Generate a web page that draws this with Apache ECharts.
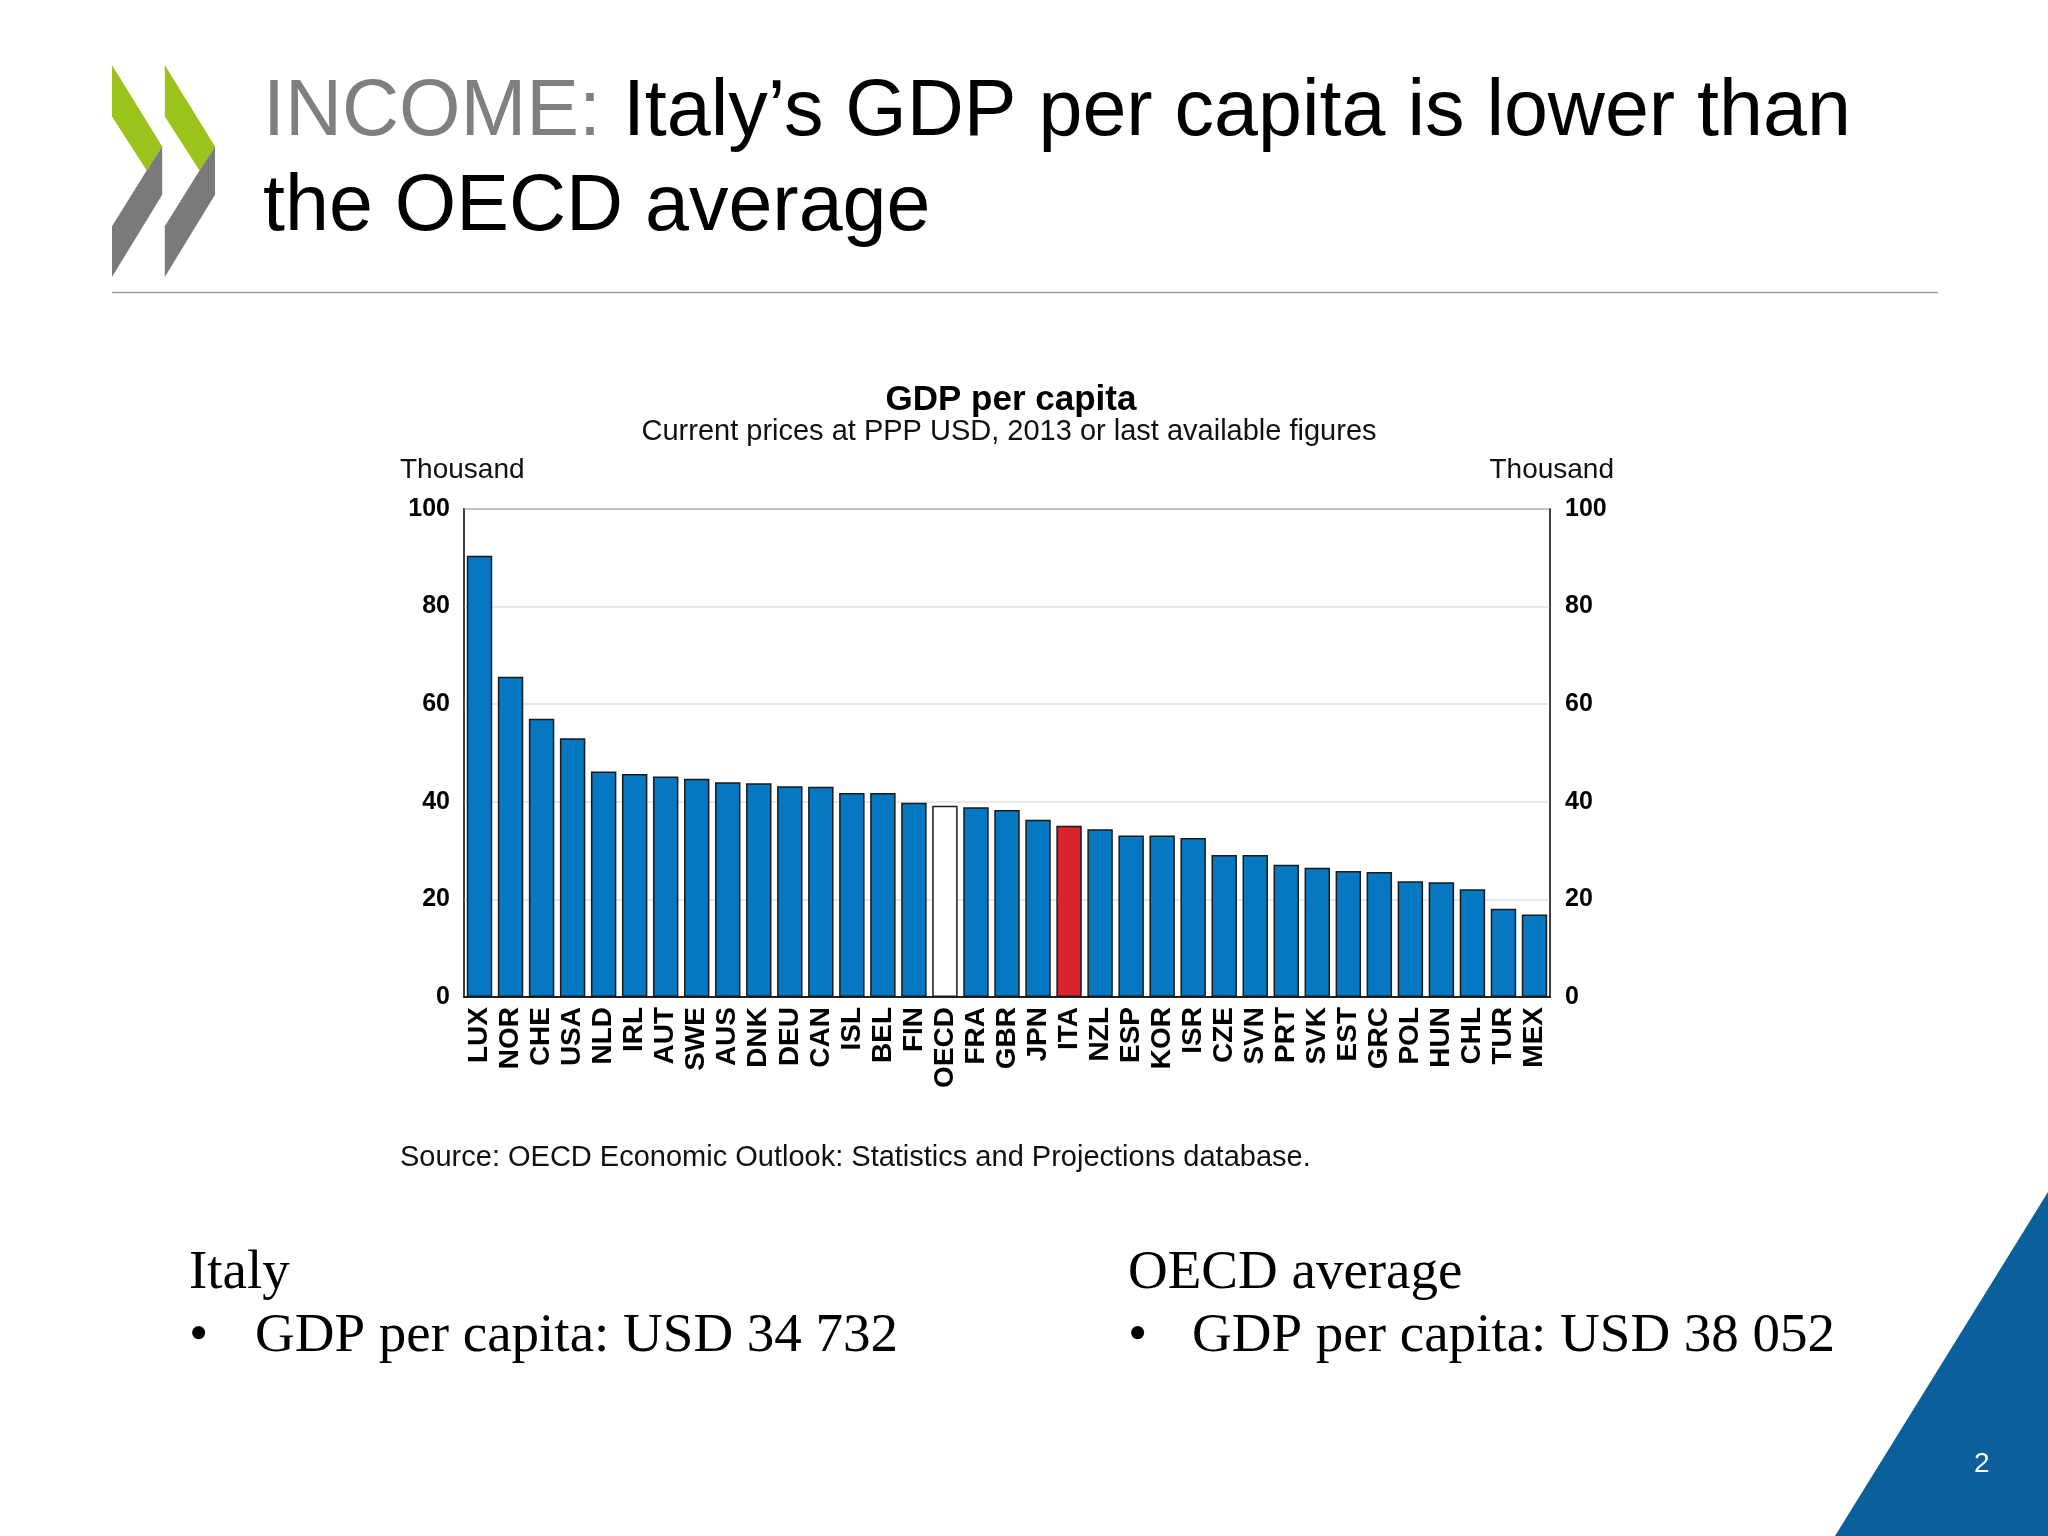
<!DOCTYPE html>
<html>
<head>
<meta charset="utf-8">
<style>
  html, body { margin: 0; padding: 0; background: #fff; }
  #chart { width: 2048px; height: 1536px; }
</style>
<script src="https://cdn.jsdelivr.net/npm/echarts@6/dist/echarts.min.js"></script>
</head>
<body>
<div id="chart"></div>
<script>
  // countries, ordered as in the chart
  const countries = ['LUX', 'NOR', 'CHE', 'USA', 'NLD', 'IRL', 'AUT', 'SWE', 'AUS', 'DNK',
    'DEU', 'CAN', 'ISL', 'BEL', 'FIN', 'OECD', 'FRA', 'GBR', 'JPN', 'ITA',
    'NZL', 'ESP', 'KOR', 'ISR', 'CZE', 'SVN', 'PRT', 'SVK', 'EST', 'GRC',
    'POL', 'HUN', 'CHL', 'TUR', 'MEX'];
  // GDP per capita, thousand USD (PPP)
  const gdpValues = [90.4, 65.6, 57.0, 53.0, 46.2, 45.7, 45.2, 44.7, 44.0, 43.8,
    43.2, 43.1, 41.8, 41.8, 39.8, 39.2, 38.9, 38.3, 36.3, 35.1,
    34.4, 33.1, 33.1, 32.6, 29.1, 29.1, 27.1, 26.5, 25.8, 25.6,
    23.7, 23.5, 22.1, 18.1, 16.9];
  const yTicks = [0, 20, 40, 60, 80, 100];

  const blue = '#0677c1';
  const sans = '"Liberation Sans", Arial, sans-serif';
  const serif = '"Liberation Serif", "Times New Roman", serif';

  let myChart = echarts.init(document.getElementById('chart'));

  let barData = gdpValues.map(function (v, i) {
    let c = countries[i];
    let color = blue;
    if (c === 'OECD') color = '#ffffff';
    if (c === 'ITA') color = '#d8232c';
    return { value: v, itemStyle: { color: color } };
  });

  // OECD logo chevrons
  function chevron(x0) {
    let xi = x0 + 34.7, xr = x0 + 50.2;
    return [
      { type: 'polygon', shape: { points: [[x0, 65], [xr, 146.6], [xi, 170.6], [x0, 116.5]] }, style: { fill: '#9bc31c' } },
      { type: 'polygon', shape: { points: [[xr, 146.6], [xr, 194.7], [x0, 277], [x0, 226.3], [xi, 170.6]] }, style: { fill: '#7a7a7a' } }
    ];
  }

  myChart.setOption({
    backgroundColor: '#ffffff',
    animation: false,
    title: [{
      text: '{g|INCOME:} Italy’s GDP per capita is lower than',
      left: 258, top: 68,
      textStyle: {
        fontFamily: sans, fontSize: 79, fontWeight: 'normal', color: '#000', lineHeight: 80,
        rich: { g: { fontFamily: sans, fontSize: 79, color: '#7f7f7f', lineHeight: 80 } }
      }
    }, {
      text: 'the OECD average',
      left: 258, top: 163,
      textStyle: { fontFamily: sans, fontSize: 79, fontWeight: 'normal', color: '#000', lineHeight: 80 }
    }, {
      text: 'GDP per capita',
      left: 1006, top: 377, textAlign: 'center',
      textStyle: { fontFamily: sans, fontSize: 35, fontWeight: 'bold', color: '#000', lineHeight: 36 }
    }, {
      text: 'Current prices at PPP USD, 2013 or last available figures',
      left: 1004, top: 412, textAlign: 'center',
      textStyle: { fontFamily: sans, fontSize: 29, fontWeight: 'normal', color: '#111', lineHeight: 29 }
    }],
    grid: {
      left: 464, right: 498, top: 509, bottom: 539,
      show: true, borderColor: '#333', borderWidth: 1.5, backgroundColor: 'transparent'
    },
    xAxis: {
      type: 'category',
      data: countries,
      axisLine: { show: true, lineStyle: { color: '#222', width: 2 } },
      axisTick: { show: false },
      axisLabel: {
        rotate: 90, interval: 0, margin: 10,
        fontFamily: sans, fontSize: 28, fontWeight: 'bold', color: '#000'
      }
    },
    yAxis: [{
      type: 'value', min: yTicks[0], max: yTicks[yTicks.length - 1], interval: 20,
      position: 'left',
      name: 'Thousand', nameLocation: 'end', nameGap: 25,
      nameTextStyle: { fontFamily: sans, fontSize: 28, color: '#111', align: 'left', padding: [0, 0, 0, -64] },
      axisLine: { show: true, lineStyle: { color: '#333', width: 1.5 } },
      axisTick: { show: false },
      axisLabel: { margin: 14, fontFamily: sans, fontSize: 25, fontWeight: 'bold', color: '#000' },
      splitLine: { show: true, lineStyle: { color: '#e2e2e2', width: 1.5 } }
    }, {
      type: 'value', min: yTicks[0], max: yTicks[yTicks.length - 1], interval: 20,
      position: 'right',
      name: 'Thousand', nameLocation: 'end', nameGap: 25,
      nameTextStyle: { fontFamily: sans, fontSize: 28, color: '#111', align: 'right', padding: [0, -64, 0, 0] },
      axisLine: { show: true, lineStyle: { color: '#333', width: 1.5 } },
      axisTick: { show: false },
      axisLabel: { margin: 15, fontFamily: sans, fontSize: 25, fontWeight: 'bold', color: '#000' },
      splitLine: { show: false }
    }],
    series: [{
      name: 'GDP per capita',
      type: 'bar',
      data: barData,
      barCategoryGap: '18%',
      itemStyle: { borderColor: '#1a1a1a', borderWidth: 1.5 }
    }],
    graphic: [].concat(chevron(112), chevron(164.8), [
      { type: 'line', shape: { x1: 112, y1: 292.5, x2: 1938, y2: 292.5 }, style: { stroke: '#9a9a9a', lineWidth: 1.5 } },
      {
        type: 'text', left: 400, top: 1143,
        style: { text: 'Source: OECD Economic Outlook: Statistics and Projections database.', font: '29px ' + sans, fill: '#111' }
      },
      { type: 'text', left: 189, top: 1246, style: { text: 'Italy', font: '55px ' + serif, fill: '#000' } },
      { type: 'text', left: 189, top: 1309, style: { text: '•', font: '55px ' + serif, fill: '#000' } },
      { type: 'text', left: 255, top: 1309, style: { text: 'GDP per capita: USD 34 732', font: '55px ' + serif, fill: '#000' } },
      { type: 'text', left: 1128, top: 1246, style: { text: 'OECD average', font: '55px ' + serif, fill: '#000' } },
      { type: 'text', left: 1128, top: 1309, style: { text: '•', font: '55px ' + serif, fill: '#000' } },
      { type: 'text', left: 1192, top: 1309, style: { text: 'GDP per capita: USD 38 052', font: '55px ' + serif, fill: '#000' } },
      { type: 'polygon', shape: { points: [[2048, 1192], [2048, 1536], [1835, 1536]] }, style: { fill: '#0b5f9b' } },
      { type: 'text', left: 1974, top: 1450, style: { text: '2', font: '28px ' + sans, fill: '#ffffff' } }
    ])
  });
</script>
</body>
</html>
